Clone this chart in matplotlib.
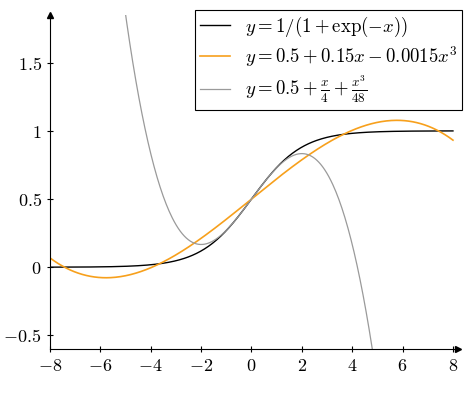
import numpy as np
import matplotlib.pyplot as plt

plt.rcParams['mathtext.fontset'] = 'cm'
plt.rcParams['font.family'] = 'DejaVu Serif'

# polynomial coefficients (highest power first) as given in the legend
orange_coef = [-0.0015, 0.0, 0.15, 0.5]
gray_coef = [-1 / 48, 0.0, 1 / 4, 0.5]
x_ticks = [-8, -6, -4, -2, 0, 2, 4, 6, 8]
y_ticks = [-0.5, 0, 0.5, 1, 1.5]
y_labels = ['$-0.5$', '$0$', '$0.5$', '$1$', '$1.5$']

x = np.linspace(-8, 8, 400)

fig = plt.figure(figsize=(4.74, 4.08), dpi=100)
ax = fig.add_axes([50 / 474, 59 / 408, 408 / 474, 334 / 408])

ax.plot(x, 1 / (1 + np.exp(-x)), color='black', lw=1.0,
        label=r'$y = 1/(1+\exp(-x))$')
ax.plot(x, np.polyval(orange_coef, x), color='#f7a01c', lw=1.2,
        label=r'$y = 0.5 + 0.15x - 0.0015x^3$')
ax.plot(x, np.polyval(gray_coef, x), color='#9a9a9a', lw=0.9,
        label=r'$y = 0.5 + \frac{x}{4} + \frac{x^3}{48}$')

ax.set_xlim(-8, 8.2)
ax.set_ylim(-0.6, 1.85)
for s in ['top', 'right']:
    ax.spines[s].set_visible(False)
ax.plot(1, 0, '>k', ms=4, transform=ax.transAxes, clip_on=False)
ax.plot(0, 1, '^k', ms=4, transform=ax.transAxes, clip_on=False)

ax.set_xticks(x_ticks)
ax.set_xticklabels(['$%d$' % t if t >= 0 else '$-%d$' % -t for t in x_ticks])
ax.set_yticks(y_ticks)
ax.set_yticklabels(y_labels)
ax.tick_params(direction='inout', length=5, labelsize=13, width=0.8)

leg = fig.legend(*ax.get_legend_handles_labels(), loc='upper right',
                 bbox_to_anchor=(0.995, 0.998), fontsize=13.5,
                 fancybox=False, edgecolor='black', framealpha=1,
                 handlelength=1.6, borderpad=0.25, labelspacing=0.25)
leg.get_frame().set_linewidth(0.8)

fig.savefig('out.png', dpi=100)
